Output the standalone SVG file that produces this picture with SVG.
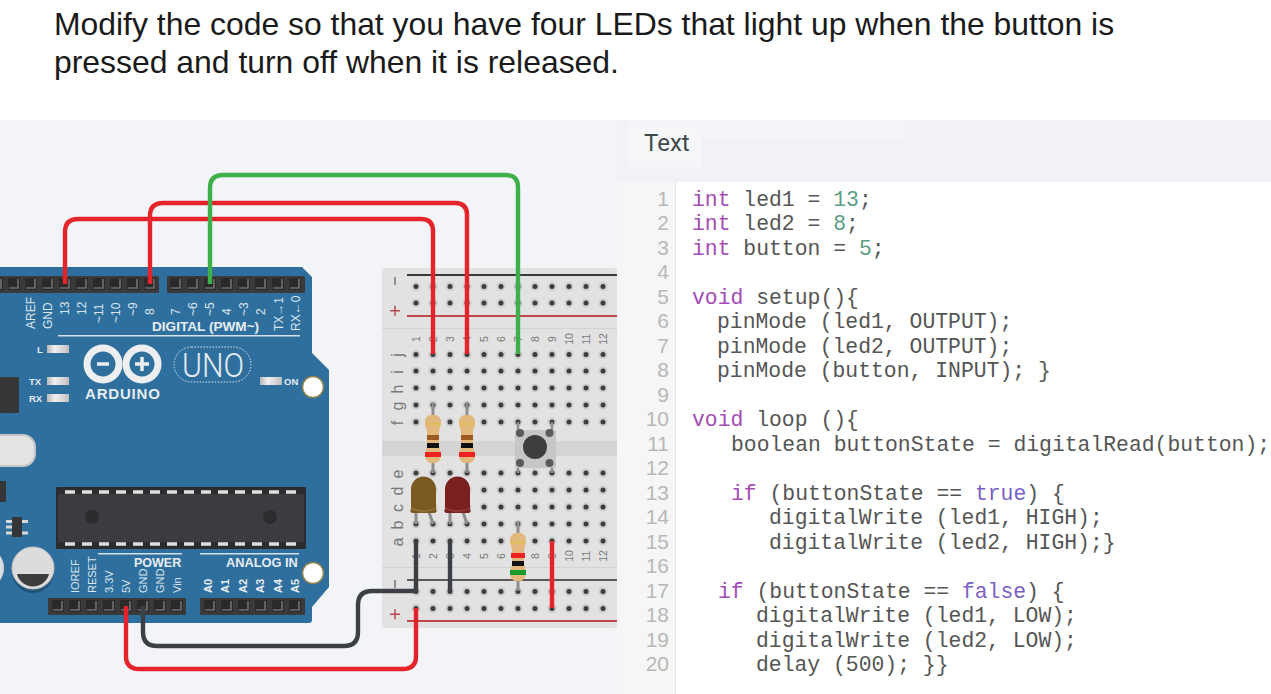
<svg xmlns="http://www.w3.org/2000/svg" width="1271" height="694" viewBox="0 0 1271 694">
<style>
.t{font-family:"Liberation Sans",Arial,sans-serif;font-size:31.9px;fill:#1a1a1a}
.c{font-family:"Liberation Mono","Courier New",monospace;font-size:21.4px;fill:#555;white-space:pre}
.n{font-family:"Liberation Sans",Arial,sans-serif;font-size:21px;fill:#b8b8b8;text-anchor:end}
.k{fill:#a44bb5}.v{fill:#5a9e84}.b{fill:#7a5fc4}
.w{font-family:"Liberation Sans",Arial,sans-serif;fill:#e6edf2;font-weight:700}
.l{font-family:"Liberation Sans",Arial,sans-serif;fill:#d9e5ed;font-weight:400}
.bb{font-family:"Liberation Sans",Arial,sans-serif;font-size:10.5px;fill:#777;text-anchor:middle}
.hl{font-family:"Liberation Sans",Arial,sans-serif;font-size:16px;fill:#777;text-anchor:middle}
.hole{stroke-linecap:round;stroke-dasharray:0 17;fill:none}
.wire{fill:none;stroke-width:4.4;stroke-linejoin:round}
.r{stroke:#e4242a}.g{stroke:#3eb04a}.d{stroke:#3c4044}
.sock{fill:#3a3a3a}
.pin{stroke:#8e8e8e;stroke-width:3;fill:none}
</style>
<defs>
<linearGradient id="ledg"><stop offset="0" stop-color="#b8b8b8"/><stop offset=".35" stop-color="#efefef"/><stop offset=".7" stop-color="#d8d8d8"/><stop offset="1" stop-color="#bcbcbc"/></linearGradient>
<g id="res"><path d="M0,-16V-4M0,44V54" class="pin"/>
<path d="M-3,-4C-8,-2-8,1-8,4C-8,8-6,10-6,14V26C-6,30-8,32-8,36C-8,40-6,43-3,44H3C6,43,8,40,8,36C8,32,6,30,6,26V14C6,10,8,8,8,4C8,1,8,-2,3,-4Z" fill="#e2b87c"/></g>
<g id="sk"><rect x="-6" y="-6" width="12" height="12" fill="#2a2a2a"/><path d="M-5,4H4V-5" fill="none" stroke="#6d6d6d" stroke-width="1.700"/></g>
<g id="hdr"><use href="#sk" x="0"/><use href="#sk" x="17"/><use href="#sk" x="34"/><use href="#sk" x="51"/><use href="#sk" x="68"/><use href="#sk" x="85"/></g>
</defs>
<rect width="1271" height="694" fill="#fff"/>
<g id="title">
<text class="t" x="54" y="35">Modify the code so that you have four LEDs that light up when the button is</text>
<text class="t" x="54" y="73">pressed and turn off when it is released.</text>
</g>
<rect id="canvas" x="0" y="120" width="617" height="574" fill="#f3f4f7"/>
<g id="arduino">
<path d="M0,267H302L312,277V353L329,370V587L312,607V620Q312,623,309,623H0Z" fill="#2f6f9e"/>
<rect x="-5" y="276" width="164" height="17" rx="1" class="sock"/>
<rect x="167" y="276" width="138" height="17" rx="1" class="sock"/>
<rect x="48" y="598" width="138" height="17" rx="1" class="sock"/>
<rect x="200" y="598" width="105" height="17" rx="1" class="sock"/>
<use href="#hdr" x="-3" y="284"/><use href="#sk" x="99" y="284"/><use href="#sk" x="116" y="284"/><use href="#sk" x="133" y="284"/><use href="#sk" x="150" y="284"/>
<use href="#hdr" x="176" y="284"/><use href="#sk" x="278" y="284"/><use href="#sk" x="295" y="284"/>
<use href="#hdr" x="58" y="606"/><use href="#sk" x="160" y="606"/><use href="#sk" x="177" y="606"/><use href="#hdr" x="210" y="606"/>
<g class="l" font-size="12">
<text transform="translate(35,329) rotate(-90)">AREF</text>
<text transform="translate(52,329) rotate(-90)">GND</text>
<text transform="translate(69,315) rotate(-90)">13</text>
<text transform="translate(86,315) rotate(-90)">12</text>
<text transform="translate(103,323) rotate(-90)">~11</text>
<text transform="translate(120,323) rotate(-90)">~10</text>
<text transform="translate(137,316) rotate(-90)">~9</text>
<text transform="translate(154,315) rotate(-90)">8</text>
<text transform="translate(180,315) rotate(-90)">7</text>
<text transform="translate(197,316) rotate(-90)">~6</text>
<text transform="translate(214,316) rotate(-90)">~5</text>
<text transform="translate(231,315) rotate(-90)">4</text>
<text transform="translate(248,316) rotate(-90)">~3</text>
<text transform="translate(265,315) rotate(-90)">2</text>
<text transform="translate(283,331) rotate(-90)">TX→1</text>
<text transform="translate(300,331) rotate(-90)">RX←0</text>
</g>
<text class="w" x="152" y="331" font-size="13.600">DIGITAL (PWM~)</text>
<rect x="58" y="335" width="242" height="1.500" fill="#d6e2ea"/>
<g fill="url(#ledg)"><rect x="47" y="345" width="22" height="8"/><rect x="47" y="377" width="22" height="8"/><rect x="47" y="394" width="22" height="8"/><rect x="260" y="377" width="22" height="8"/></g>
<rect x="0" y="377" width="19" height="36" rx="1" fill="#343638"/>
<g class="w" font-size="9.500"><text x="37" y="353">L</text><text x="29" y="385">TX</text><text x="29" y="402">RX</text><text x="284" y="385">ON</text></g>
<g fill="none" stroke="#eceeef" stroke-width="7"><circle cx="103" cy="364" r="16"/><circle cx="142" cy="364" r="16"/></g>
<path d="M97,364h12M135,364h14M142,357v14" stroke="#eceeef" stroke-width="3.500"/>
<text class="w" x="85" y="399" font-size="15" style="letter-spacing:.8px">ARDUINO</text>
<rect x="174" y="347" width="77" height="35" rx="17.500" fill="none" stroke="#dce6ed" stroke-width="1" stroke-dasharray="1.500 1.500"/>
<text x="213" y="377" font-family="Roboto,sans-serif" font-size="33" font-weight="300" fill="#e6edf2" text-anchor="middle" textLength="62" lengthAdjust="spacingAndGlyphs">UNO</text>
<circle cx="313" cy="387" r="10.500" fill="#fff" stroke="#8f8453" stroke-width="1.500"/>
<circle cx="313" cy="573" r="10.500" fill="#fff" stroke="#8f8453" stroke-width="1.500"/>
<rect x="-30" y="435" width="65" height="31" rx="12" fill="#e3e3e3" stroke="#c4c4c4" stroke-width="2"/>
<rect x="0" y="481" width="6" height="21" fill="#343638"/>
<rect x="56" y="487" width="250" height="62" rx="1" fill="#2a2c2e"/>
<rect x="58" y="494" width="246" height="48" fill="#3a3c3f"/>
<path d="M65,492H302M65,544H302" stroke="#e0e0e0" stroke-width="3.500" stroke-dasharray="10 7" fill="none"/>
<circle cx="92" cy="517" r="7" fill="#2a2c2e"/><circle cx="270" cy="517" r="7" fill="#2a2c2e"/>
<rect x="12" y="517" width="10" height="20" fill="#343638"/>
<path d="M6,521.500H12M6,527H12M6,533H12M22,521.500H28M22,533H28" stroke="#d8d8d8" stroke-width="3"/>
<circle cx="33" cy="572" r="21" fill="#225679"/><circle cx="33" cy="568" r="21" fill="#dcdcdc" stroke="#c8c8c8"/>
<path d="M17,574H49A16.500,16.500,0,0,1,17,574Z" fill="#3d3d3d"/>
<circle cx="-17" cy="568" r="21" fill="#dcdcdc"/>
<rect x="98" y="553" width="84" height="1.500" fill="#d6e2ea"/><rect x="200" y="553" width="99" height="1.500" fill="#d6e2ea"/>
<text class="w" x="134" y="567" font-size="12.500">POWER</text>
<text class="w" x="226" y="567" font-size="12.800">ANALOG IN</text>
<g class="l" font-size="11">
<text transform="translate(79,593) rotate(-90)">IOREF</text>
<text transform="translate(96,593) rotate(-90)">RESET</text>
<text transform="translate(113,593) rotate(-90)">3.3V</text>
<text transform="translate(130,593) rotate(-90)">5V</text>
<text transform="translate(147,593) rotate(-90)">GND</text>
<text transform="translate(164,593) rotate(-90)">GND</text>
<text transform="translate(181,593) rotate(-90)">Vin</text>
<g class="w"><text transform="translate(212,593) rotate(-90)">A0</text><text transform="translate(229,593) rotate(-90)">A1</text><text transform="translate(247,593) rotate(-90)">A2</text><text transform="translate(264,593) rotate(-90)">A3</text><text transform="translate(282,593) rotate(-90)">A4</text><text transform="translate(299,593) rotate(-90)">A5</text></g>
</g>
</g>
<g id="breadboard">
<rect x="382" y="268" width="235" height="360" rx="3" fill="#e2e2e2"/>
<rect x="382" y="328" width="235" height="1" fill="#d2d2d2"/>
<rect x="382" y="441" width="235" height="15" fill="#d4d4d4"/>
<rect x="382" y="567" width="235" height="1" fill="#d2d2d2"/>
<path d="M407,275H617" stroke="#3a3a3a" stroke-width="2"/><path d="M407,316H617" stroke="#c0474a" stroke-width="2"/>
<path d="M407,580H617" stroke="#5a5a5a" stroke-width="2"/><path d="M407,621H617" stroke="#c0474a" stroke-width="2"/>
<path class="hole" stroke="#cdcdcd" stroke-width="9" d="M416,286.500H610M416,303H610M416,354.500H610M416,371H610M416,388H610M416,405H610M416,422H610M416,473H610M416,490H610M416,507H610M416,524H610M416,541H610M416,591.500H610M416,608.500H610"/>
<path class="hole" stroke="#3d3d3d" stroke-width="5" d="M416,286.500H610M416,303H610M416,354.500H610M416,371H610M416,388H610M416,405H610M416,422H610M416,473H610M416,490H610M416,507H610M416,524H610M416,541H610M416,591.500H610M416,608.500H610"/>
<g fill="#b84a4d"><path d="M390,310h10v1.500h-10zM394.300,305.800h1.500v10h-1.500zM390,613.500h10v1.500h-10zM394.300,609.300h1.500v10h-1.500z"/></g>
<path d="M395,277v8M395,580v8" stroke="#777" stroke-width="1.500"/>
<g class="bb">
<text transform="translate(420,339) rotate(-90)">1</text><text transform="translate(437,339) rotate(-90)">2</text><text transform="translate(454,339) rotate(-90)">3</text><text transform="translate(471,339) rotate(-90)">4</text><text transform="translate(488,339) rotate(-90)">5</text><text transform="translate(505,339) rotate(-90)">6</text><text transform="translate(522,339) rotate(-90)">7</text><text transform="translate(539,339) rotate(-90)">8</text><text transform="translate(556,339) rotate(-90)">9</text><text transform="translate(573,339) rotate(-90)">10</text><text transform="translate(590,339) rotate(-90)">11</text><text transform="translate(607,339) rotate(-90)">12</text>
<text transform="translate(420,556) rotate(-90)">1</text><text transform="translate(437,556) rotate(-90)">2</text><text transform="translate(454,556) rotate(-90)">3</text><text transform="translate(471,556) rotate(-90)">4</text><text transform="translate(488,556) rotate(-90)">5</text><text transform="translate(505,556) rotate(-90)">6</text><text transform="translate(522,556) rotate(-90)">7</text><text transform="translate(539,556) rotate(-90)">8</text><text transform="translate(556,556) rotate(-90)">9</text><text transform="translate(573,556) rotate(-90)">10</text><text transform="translate(590,556) rotate(-90)">11</text><text transform="translate(607,556) rotate(-90)">12</text>
</g>
<g class="hl">
<text transform="translate(403,355) rotate(-90)">j</text><text transform="translate(403,372) rotate(-90)">i</text><text transform="translate(403,389) rotate(-90)">h</text><text transform="translate(403,406) rotate(-90)">g</text><text transform="translate(403,423) rotate(-90)">f</text>
<text transform="translate(403,474) rotate(-90)">e</text><text transform="translate(403,491) rotate(-90)">d</text><text transform="translate(403,508) rotate(-90)">c</text><text transform="translate(403,525) rotate(-90)">b</text><text transform="translate(403,542) rotate(-90)">a</text>
</g>
</g>
<g id="resistor1"><use href="#res" x="433" y="419"/><path d="M426,424H440" stroke="#d9c24a" stroke-width="1.500"/><rect x="427" y="435" width="12" height="5" fill="#9a5a20"/><rect x="427" y="443" width="12" height="5" fill="#111"/><rect x="425" y="452" width="16" height="5" fill="#ee2222"/></g>
<g id="resistor2"><use href="#res" x="467" y="419"/><path d="M460,424H474" stroke="#d9c24a" stroke-width="1.500"/><rect x="461" y="435" width="12" height="5" fill="#9a5a20"/><rect x="461" y="443" width="12" height="5" fill="#111"/><rect x="459" y="452" width="16" height="5" fill="#ee2222"/></g>
<g id="resistor3"><use href="#res" x="518" y="537"/><path d="M511,542.500H525" stroke="#d9c24a" stroke-width="1.500"/><rect x="511" y="553" width="14" height="5" fill="#ee2222"/><rect x="512" y="561" width="12" height="5" fill="#111"/><rect x="510" y="570" width="16" height="5" fill="#1a9a2a"/></g>
<g id="button"><path d="M518,422v8M552,422v8M518,468v5M552,468v5" stroke="#8e8e8e" stroke-width="2.500"/><rect x="515" y="430" width="41" height="38" rx="1.500" fill="#c6c6c6"/><circle cx="535" cy="447" r="12" fill="#3e3e40"/><circle cx="520" cy="463" r="4" fill="#5a5a5a"/><circle cx="549.500" cy="463" r="4" fill="#5a5a5a"/><circle cx="520" cy="433" r="4" fill="#5a5a5a"/><circle cx="549.500" cy="433" r="4" fill="#5a5a5a"/></g>
<g id="led1"><path d="M416,510V524M429,512L433,524" class="pin"/><path d="M411,509V489A12.500,12.500,0,0,1,436,489V509C437,511,437,512,435,513H412C410,512,410,511,411,509Z" fill="#7a5a20"/><path d="M411,508C418,512,430,512,436,508" fill="none" stroke="#94743c" stroke-width="1.500"/></g>
<g id="led2"><path d="M450,510V524M463,512L467,524" class="pin"/><path d="M445,509V489A12.500,12.500,0,0,1,470,489V509C471,511,471,512,469,513H446C444,512,444,511,445,509Z" fill="#7a2020"/><path d="M445,508C452,512,464,512,470,508" fill="none" stroke="#963c3c" stroke-width="1.500"/></g>
<g id="connectors">
<path class="wire r" d="M65,284V232Q65,219,78,219H421Q433,219,433,231V354"/>
<path class="wire r" d="M150,284V216Q150,203,163,203H455Q467,203,467,215V354"/>
<path class="wire g" d="M210,284V188Q210,175,223,175H506Q518,175,518,187V354"/>
<path class="wire d" d="M450,541V591"/>
<path class="wire d" d="M416,541V591H372Q358,591,358,605V632Q358,646,344,646H157Q143,646,143,632V606"/>
<path class="wire r" d="M552,541V608"/>
<path class="wire r" d="M416,608V656Q416,669,403,669H139Q126,669,126,656V606"/>
</g>
<g id="panel">
<rect x="617" y="120" width="654" height="62" fill="#f1f2f5"/>
<rect x="628" y="120" width="276" height="47" rx="3" fill="#f3f4f7"/>
<rect x="702" y="139" width="203" height="43" fill="#f1f2f5"/>
<rect x="628" y="121" width="74" height="46" rx="3" fill="#f6f6f8"/>
<text x="644" y="151" font-family="Roboto,sans-serif" font-size="24" fill="#3e4a4a">Text</text>
<rect x="617" y="182" width="654" height="512" fill="#fff"/>
<rect x="617" y="182" width="59" height="512" fill="#f6f6f6"/>
<rect x="675" y="182" width="1" height="512" fill="#e4e4e4"/>
<g class="n"><text x="669" y="206">1</text><text x="669" y="230">2</text><text x="669" y="255">3</text><text x="669" y="279">4</text><text x="669" y="304">5</text><text x="669" y="328">6</text><text x="669" y="353">7</text><text x="669" y="377">8</text><text x="669" y="402">9</text><text x="669" y="426">10</text><text x="669" y="451">11</text><text x="669" y="475">12</text><text x="669" y="500">13</text><text x="669" y="524">14</text><text x="669" y="549">15</text><text x="669" y="573">16</text><text x="669" y="598">17</text><text x="669" y="622">18</text><text x="669" y="647">19</text><text x="669" y="671">20</text></g>
<g class="c">
<text x="692" y="206"><tspan class="k">int</tspan> led1 = <tspan class="v">13</tspan>;</text>
<text x="692" y="230"><tspan class="k">int</tspan> led2 = <tspan class="v">8</tspan>;</text>
<text x="692" y="255"><tspan class="k">int</tspan> button = <tspan class="v">5</tspan>;</text>
<text x="692" y="304"><tspan class="k">void</tspan> setup(){</text>
<text x="717" y="328">pinMode (led1, OUTPUT);</text>
<text x="717" y="353">pinMode (led2, OUTPUT);</text>
<text x="717" y="377">pinMode (button, INPUT); }</text>
<text x="692" y="426"><tspan class="k">void</tspan> loop (){</text>
<text x="731" y="451">boolean buttonState = digitalRead(button);</text>
<text x="731" y="500"><tspan class="k">if</tspan> (buttonState == <tspan class="b">true</tspan>) {</text>
<text x="769" y="524">digitalWrite (led1, HIGH);</text>
<text x="769" y="549">digitalWrite (led2, HIGH);}</text>
<text x="718" y="598"><tspan class="k">if</tspan> (buttonState == <tspan class="b">false</tspan>) {</text>
<text x="756" y="622">digitalWrite (led1, LOW);</text>
<text x="756" y="647">digitalWrite (led2, LOW);</text>
<text x="756" y="671">delay (500); }}</text>
</g>
</g>
</svg>
